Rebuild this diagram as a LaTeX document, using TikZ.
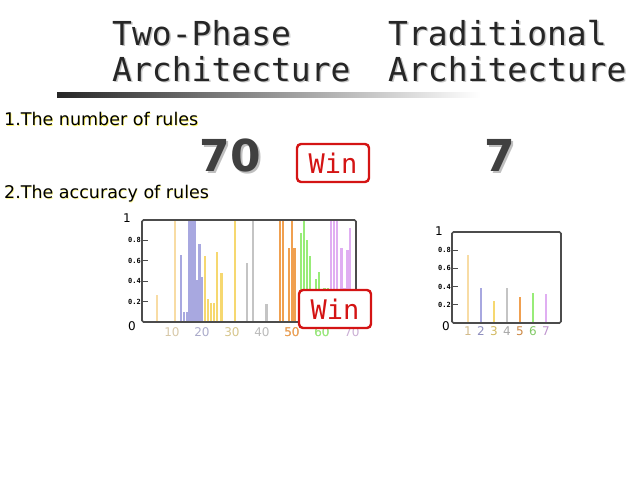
\documentclass[tikz,border=0pt]{standalone}
\usepackage{fontspec}
\setmainfont{DejaVu Sans}
\newfontfamily\monof{DejaVu Sans Mono}
\newfontfamily\labf{DejaVu Sans}
\definecolor{cly}{HTML}{F8DCA4}
\definecolor{cbl}{HTML}{A8A8E0}
\definecolor{cye}{HTML}{F6D870}
\definecolor{cgr}{HTML}{C4C4C4}
\definecolor{cor}{HTML}{F0A050}
\definecolor{cgn}{HTML}{98EC78}
\definecolor{cpu}{HTML}{E0AEF2}
\definecolor{winred}{HTML}{D41414}
\tikzset{x=1pt,y=-1pt,
 title/.style={font=\monof\fontsize{33}{36}\selectfont,text=black!85,align=left,anchor=north west,inner sep=0},
 sec/.style={font=\labf\fontsize{17.5}{19}\selectfont,anchor=west,inner sep=0},
 big/.style={font=\bfseries\fontsize{44}{44}\selectfont,text=black!75,inner sep=0},
 winbox/.style={draw=winred,line width=2.4pt,rounded corners=4pt,fill=white,text=winred,font=\monof\fontsize{27}{27}\selectfont,minimum width=72pt,minimum height=38pt,inner sep=0},
 frame/.style={draw=black!70,line width=1.6pt,rounded corners=1.5pt},
 tick/.style={font=\monof\bfseries\fontsize{7}{7}\selectfont,anchor=east,inner sep=1pt},
 axl/.style={font=\fontsize{12}{12}\selectfont,inner sep=0}}
\begin{document}
\begin{tikzpicture}
\useasboundingbox (0,0) rectangle (638,478);
% titles
\node[title,text=black!22] at (113.5,21.5) {Two-Phase\\Architecture};
\node[title] (t1) at (112,20) {Two-Phase\\Architecture};
\node[title,text=black!22] at (389.5,21.5) {Traditional\\Architecture};
\node[title] (t2) at (388,20) {Traditional\\Architecture};
\shade[left color=black!85,right color=white] (57,93) rectangle (480,98);
% sections
\node[sec,text=yellow!60] at (4.6,119.6) {1.The number of rules};
\node[sec] (s1) at (4,119) {1.The number of rules};
\node[sec,text=yellow!40] at (4.6,194.6) {2.The accuracy of rules};
\node[sec] (s2) at (4,194) {2.The accuracy of rules};
\node[big,text=black!25] at (232,157) {70};
\node[big] (n70) at (230,155) {70};
\node[big,text=black!25] at (502,157) {7};
\node[big] (n7) at (500,155) {7};
\node[winbox] (w1) at (333,163) {Win};
% left chart bars
\foreach \i/\h/\c in {5/0.26/cly,11/1/cly,13/0.66/cbl,14/0.1/cbl,15/0.1/cbl,15.8/1/cbl,16.6/1/cbl,17.4/1/cbl,18.3/0.41/cbl,19.2/0.76/cbl,20/0.44/cbl,21/0.65/cye,22/0.23/cye,23/0.19/cye,24/0.19/cye,25/0.69/cye,26.5/0.48/cye,31/1/cye,35/0.58/cgr,37/1/cgr,41.6/0.18/cgr,46/1/cor,47/1/cor,49/0.73/cor,50/1/cor,50.8/0.73/cor,53/0.87/cgn,54/1/cgn,55/0.8/cgn,56/0.65/cgn,58/0.42/cgn,59/0.49/cgn,60.8/0.33/cgn,62/0.33/cgn,63/1/cpu,64/1/cpu,65/1/cpu,66.4/0.73/cpu,67.5/0.33/cpu,68.4/0.71/cpu,69.3/0.92/cpu}
  \fill[\c] ({142+3*\i-1.4},322) rectangle ({142+3*\i+1.4},{322-102*\h});
\draw[frame] (142,220) rectangle (356,322);
\foreach \v/\t in {0.8/0.8,0.6/0.6,0.4/0.4,0.2/0.2}{
  \draw[black!70,line width=1pt] (142,{322-102*\v}) -- (148,{322-102*\v});
  \node[tick] at (142,{322-102*\v}) {\t};}
\node[axl] (l1) at (127,218) {1};
\node[axl] (l0) at (132,326) {0};
\foreach \n/\c in {10/cly,20/cbl,30/cye,40/cgr,50/cor,60/cgn,70/cpu}
  \node[axl,text=\c!80!black!70] at ({142+3*\n},332) {\n};
\foreach \n/\c in {50/cor,60/cgn}
  \node[axl,text=\c] at ({142+3*\n},332) {\n};
\node[winbox] (w2) at (335,309) {Win};
% right chart
\foreach \i/\h/\c in {1/0.75/cly,2/0.38/cbl,3/0.24/cye,4/0.38/cgr,5/0.29/cor,6/0.33/cgn,7/0.32/cpu}{
  \fill[\c] ({455+13*\i-1.4},323) rectangle ({455+13*\i+1.4},{323-91*\h});
  \node[axl,text=\c!85!black] at ({455+13*\i},331) {\i};}
\draw[frame] (452,232) rectangle (561,323);
\foreach \v in {0.8,0.6,0.4,0.2}{
  \draw[black!70,line width=1pt] (452,{323-91*\v}) -- (458,{323-91*\v});
  \node[tick] at (452,{323-91*\v}) {\v};}
\node[axl] (r1) at (439,231) {1};
\node[axl] (r0) at (446,326) {0};
\end{tikzpicture}
\end{document}
